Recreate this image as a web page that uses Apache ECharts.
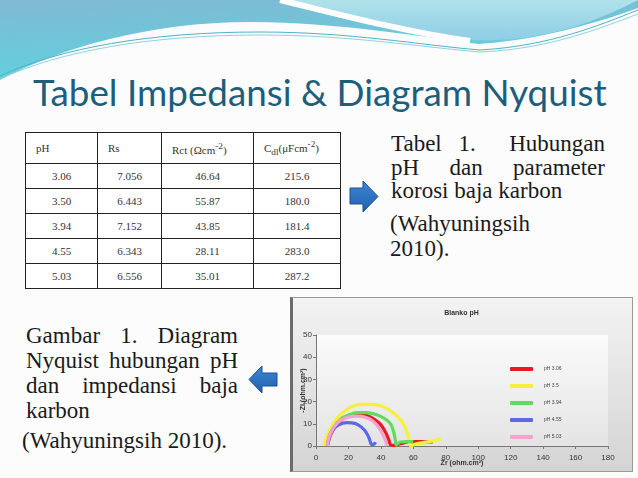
<!DOCTYPE html>
<html><head><meta charset="utf-8">
<script src="https://cdn.jsdelivr.net/npm/echarts@6/dist/echarts.min.js"></script>
<style>
html,body{margin:0;padding:0;background:#fcfcfc;}
#slide{position:relative;width:638px;height:478px;overflow:hidden;background:#fcfcfc;}
#deco{position:absolute;left:0;top:0;}
#title{position:absolute;left:33px;top:74px;font-family:Lato,'Open Sans',sans-serif;font-size:36.8px;line-height:36.8px;color:#1d5e7c;white-space:nowrap;}
#tbl{position:absolute;left:25px;top:132px;border-collapse:collapse;background:#fff;font-family:'Liberation Serif',serif;font-size:11px;color:#333;}
#tbl td{border:1.6px solid #222;padding:0;text-align:center;}
#tbl tr.h td{text-align:left;padding-left:10px;height:30px;}
#tbl tr.d td{height:24px;}
.para{position:absolute;font-family:'Liberation Serif',serif;font-size:23px;color:#1a1a1a;}
.para div{white-space:nowrap;}
.para div.j{text-align:justify;text-align-last:justify;white-space:normal;}
#chartbox{position:absolute;left:290px;top:297px;width:343px;height:175px;box-sizing:border-box;border:1px solid #9a9a9a;border-left:3px solid #6b6b6b;background:linear-gradient(#f3f3f3,#d4d4d4);}
#chart{position:absolute;left:290px;top:297px;width:343px;height:175px;}
</style></head>
<body><div id="slide">
<svg id="deco" width="638" height="478" viewBox="0 0 638 478">
<defs>
<linearGradient id="g1" x1="0" y1="0" x2="0.3" y2="1"><stop offset="0" stop-color="#80b9d3"/><stop offset="1" stop-color="#5fd2df"/></linearGradient>
<linearGradient id="g2" x1="0" y1="0" x2="0" y2="1"><stop offset="0" stop-color="#b0e2ea"/><stop offset="1" stop-color="#8dcde6"/></linearGradient>
<linearGradient id="ga" x1="0" y1="0" x2="0" y2="1"><stop offset="0" stop-color="#3f86d4"/><stop offset="1" stop-color="#2060ad"/></linearGradient>
</defs>
<path d="M0,0 L0,80 C60,48 150,22 250,22 C330,22 420,36 478,44 C540,40 600,22 638,8 L638,0 Z" fill="url(#g1)"/>
<path d="M283,0 C330,12 400,30 470,40 C540,44 600,20 638,0 Z" fill="url(#g2)"/>
<path d="M280,0 C330,12 400,31 470,41" fill="none" stroke="#ffffff" stroke-width="6"/>
<path d="M0,76 C60,48 150,32 260,32 C350,32 420,45 480,50 C550,46 600,25 638,10" fill="none" stroke="#4fb4c8" stroke-width="1"/>
<path d="M0,79 C60,51 150,35 260,35 C350,35 420,47 480,52 C550,49 600,28 638,14" fill="none" stroke="#8fd3de" stroke-width="1"/>
<polygon points="350,188 363,188 363,181 378,196.5 363,212 363,204 350,204" fill="url(#ga)" stroke="#1d4f93" stroke-width="1"/>
<polygon points="277,373 262,373 262,366 249,379.5 262,393 262,386 277,386" fill="url(#ga)" stroke="#1d4f93" stroke-width="1"/>
</svg>
<div id="title">Tabel Impedansi &amp; Diagram Nyquist</div>
<table id="tbl"></table>
<div class="para" style="left:391px;top:132px;width:214px;line-height:23.5px;">
<div class="j">Tabel 1.&nbsp; Hubungan</div>
<div class="j">pH dan parameter</div>
<div>korosi baja karbon</div>
</div>
<div class="para" style="left:390px;top:211px;width:214px;line-height:25px;">
<div>(Wahyuningsih</div>
<div>2010).</div>
</div>
<div class="para" style="left:26px;top:323px;width:212px;line-height:25px;">
<div class="j">Gambar 1. Diagram</div>
<div class="j">Nyquist hubungan pH</div>
<div class="j">dan impedansi baja</div>
<div>karbon</div>
</div>
<div class="para" style="left:22px;top:428px;width:230px;line-height:25px;">
<div>(Wahyuningsih 2010).</div>
</div>
<div id="chartbox"></div>
<div id="chart"></div>
</div>
<script>
// ---- table data ----
const tableHeader = ['pH', 'Rs', 'Rct (Ωcm<sup>-2</sup>)', 'C<sub>dl</sub>(μFcm<sup>-2</sup>)'];
const tablePH  = ['3.06', '3.50', '3.94', '4.55', '5.03'];
const tableRs  = ['7.056', '6.443', '7.152', '6.343', '6.556'];
const tableRct = ['46.64', '55.87', '43.85', '28.11', '35.01'];
const tableCdl = ['215.6', '180.0', '181.4', '283.0', '287.2'];
const colWidths = [71, 63, 91, 86];

// ---- chart data (Zr, -Zi) ----
const seriesNames = ['pH 3.06', 'pH 3.5', 'pH 3.94', 'pH 4.55', 'pH 5.03'];
const seriesColors = ['#e61a1f', '#f6f03a', '#5edc5a', '#5a6ae6', '#f4a3cf'];
const ph306 = [[7,0],[9,5],[12,9],[16,12],[21,13.8],[26,14.3],[31,13.8],[36,12],[40,9.5],[43,6],[45,2.5],[46,0.5],[48,0.3],[52,1],[58,2],[65,2],[72,1.8]];
const ph350 = [[5,0],[6,3],[9,8],[13,12.5],[18,16],[24,18.2],[30,18.9],[36,18.7],[42,17.5],[48,14.8],[53,11],[56,6.5],[57.5,2],[58.5,0],[61,0.8],[66,1.5],[72,2.3],[77,3.2]];
const ph394 = [[7,0],[8,4],[11,8.5],[15,12],[20,14],[26,15],[31,15],[37,14.2],[42,12.5],[46,10],[48,6],[49,2],[49.5,0.5],[52,1.8],[56,2],[60,2]];
const ph455 = [[7,0],[8,3.5],[10,7],[14,9.5],[19,10.5],[24,10.2],[28,8.5],[31,6],[33,3],[34,0.8],[35,0.5],[36,1.2],[37,0.8]];
const ph503 = [[7,0],[8,4],[11,8.5],[15,11.5],[20,13],[25,13.5],[30,13],[35,11.3],[39,8],[42,4],[43.5,1],[44,0]];
const seriesData = [ph306, ph350, ph394, ph455, ph503];

// build table
(function(){
  const t = document.getElementById('tbl');
  let html = '<tr class="h">' + tableHeader.map((h,i)=>'<td style="width:'+(colWidths[i]-10)+'px">'+h+'</td>').join('') + '</tr>';
  for (let r = 0; r < tablePH.length; r++) {
    html += '<tr class="d"><td>'+tablePH[r]+'</td><td>'+tableRs[r]+'</td><td>'+tableRct[r]+'</td><td>'+tableCdl[r]+'</td></tr>';
  }
  t.innerHTML = html;
})();

const chart = echarts.init(document.getElementById('chart'), null, {renderer:'canvas'});
chart.setOption({
  backgroundColor: 'transparent',
  animation: false,
  title: {text: 'Blanko pH', left: 'center', top: 8, textStyle: {fontSize: 7, fontWeight: 'bold', color: '#333', fontFamily: 'Liberation Sans'}},
  legend: {
    orient: 'vertical', left: 215, top: 64, itemWidth: 23, itemHeight: 4, itemGap: 11,
    icon: 'roundRect', data: seriesNames,
    textStyle: {fontSize: 5, color: '#444', lineHeight: 6, padding: [0,0,0,6], fontFamily: 'Liberation Sans'}
  },
  grid: {left: 26, right: 25, top: 38, bottom: 26, show: true, borderWidth: 0,
    containLabel: false, outerBoundsMode: 'none',
    backgroundColor: new echarts.graphic.LinearGradient(0,0,0,1,[{offset:0,color:'#fbfbfb'},{offset:1,color:'#e4e4e4'}])},
  xAxis: {
    type: 'value', min: 0, max: 180, interval: 20,
    name: 'Zr (ohm.cm²)', nameLocation: 'middle', nameGap: 14, nameMoveOverlap: false,
    nameTextStyle: {fontSize: 7, fontWeight: 'bold', color: '#333', fontFamily: 'Liberation Sans'},
    axisLine: {show: true, lineStyle: {color: '#777'}},
    axisTick: {show: true, length: 3, lineStyle: {color: '#777'}},
    splitLine: {show: false},
    axisLabel: {fontSize: 8, color: '#333', margin: 8, fontFamily: 'Liberation Sans'}
  },
  yAxis: {
    type: 'value', min: 0, max: 50, interval: 10,
    name: '-Zi (ohm.cm²)', nameLocation: 'middle', nameGap: 9, nameMoveOverlap: false,
    nameTextStyle: {fontSize: 7, fontWeight: 'bold', color: '#333', fontFamily: 'Liberation Sans'},
    axisLine: {show: true, lineStyle: {color: '#777'}},
    axisTick: {show: true, length: 3, lineStyle: {color: '#777'}},
    splitLine: {show: false},
    axisLabel: {fontSize: 8, color: '#333', margin: 4, fontFamily: 'Liberation Sans'}
  },
  series: seriesNames.map((n, i) => ({
    name: n, type: 'line', data: seriesData[i], smooth: 0.35, showSymbol: false,
    lineStyle: {width: 3.2, color: seriesColors[i]}, itemStyle: {color: seriesColors[i]}
  }))
});
</script>
</body></html>
